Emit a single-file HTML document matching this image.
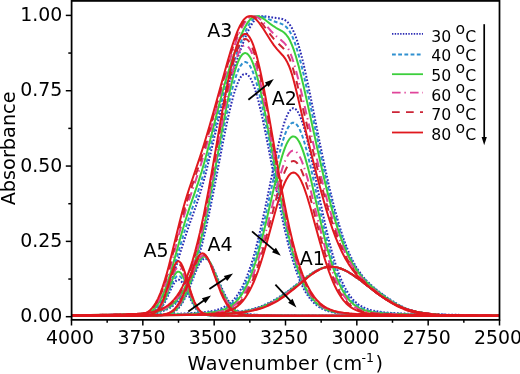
<!DOCTYPE html>
<html><head><meta charset="utf-8"><style>
html,body{margin:0;padding:0;background:#fff;}
svg{display:block;}
text{font-family:"DejaVu Sans","Liberation Sans",sans-serif;fill:#000;}
</style></head><body>
<svg width="520" height="374" viewBox="0 0 520 374">
<rect width="520" height="374" fill="#fff"/>
<g fill="none" stroke-linejoin="round">
<g stroke="#2b2bb4" stroke-width="2.00" stroke-dasharray="1.7 1.7">
<path d="M71.5 315.97 L140.5 315.74 L145.0 315.61 L148.0 315.40 L150.5 315.05 L153.0 314.43 L154.5 313.86 L155.5 313.37 L157.5 312.06 L159.5 310.22 L161.5 307.77 L163.0 305.51 L165.0 301.93 L167.0 297.82 L171.5 287.96 L173.5 284.17 L175.0 281.95 L176.0 280.85 L177.0 280.11 L177.5 279.89 L178.5 279.73 L179.5 279.96 L180.5 280.59 L181.5 281.58 L183.0 283.68 L184.0 285.41 L185.5 288.38 L190.0 298.25 L192.0 302.31 L194.5 306.61 L196.5 309.32 L197.5 310.43 L199.0 311.82 L200.0 312.57 L201.5 313.47 L203.0 314.15 L204.5 314.64 L206.5 315.09 L208.5 315.36 L212.0 315.62 L217.5 315.76 L499.5 316.00"/>
<path d="M71.5 315.93 L131.5 315.76 L155.0 315.48 L161.0 315.21 L165.0 314.82 L168.5 314.14 L171.5 313.15 L173.0 312.44 L174.5 311.56 L176.0 310.47 L177.5 309.15 L179.0 307.55 L180.0 306.33 L181.5 304.24 L182.5 302.66 L185.0 298.10 L187.5 292.69 L190.0 286.59 L195.5 272.41 L197.0 268.86 L198.5 265.67 L199.5 263.80 L200.5 262.19 L202.0 260.30 L203.0 259.44 L203.5 259.13 L204.5 258.78 L205.0 258.74 L205.5 258.78 L206.5 259.09 L207.0 259.37 L208.0 260.15 L209.5 261.84 L210.5 263.29 L211.5 264.96 L213.0 267.82 L214.5 271.01 L221.0 286.26 L224.0 292.84 L226.0 296.76 L227.5 299.41 L229.0 301.79 L230.5 303.90 L232.0 305.76 L234.0 307.84 L235.5 309.14 L237.5 310.56 L239.5 311.67 L241.5 312.53 L243.5 313.18 L246.0 313.78 L248.5 314.20 L251.5 314.54 L259.5 315.02 L273.0 315.36 L292.5 315.61 L318.0 315.76 L499.5 315.96"/>
<path d="M71.5 315.35 L108.0 314.98 L132.5 314.49 L140.0 314.19 L146.0 313.83 L151.0 313.36 L155.5 312.73 L159.5 311.92 L163.5 310.77 L167.0 309.39 L170.5 307.53 L173.5 305.47 L176.5 302.88 L179.5 299.66 L182.0 296.41 L184.5 292.57 L186.5 289.04 L189.0 284.00 L191.0 279.43 L193.5 272.99 L195.5 267.24 L197.5 260.95 L199.5 254.10 L201.5 246.69 L204.0 236.68 L206.0 228.08 L208.5 216.67 L213.5 192.02 L222.0 147.50 L225.0 132.25 L228.5 115.63 L231.5 102.91 L233.5 95.43 L235.0 90.44 L237.0 84.70 L238.5 81.13 L239.5 79.12 L240.5 77.42 L242.0 75.47 L243.0 74.57 L243.5 74.24 L244.5 73.84 L245.0 73.77 L245.5 73.78 L246.5 74.04 L247.0 74.30 L248.0 75.07 L249.5 76.83 L250.5 78.40 L251.5 80.29 L253.0 83.68 L255.0 89.21 L256.5 94.05 L258.5 101.34 L261.5 113.85 L265.0 130.28 L268.5 148.02 L277.5 195.08 L282.5 219.48 L285.0 230.71 L287.5 241.19 L290.0 250.83 L292.5 259.62 L295.0 267.54 L297.5 274.61 L300.0 280.85 L302.5 286.31 L305.0 291.04 L306.5 293.55 L308.0 295.84 L309.5 297.91 L311.0 299.78 L314.0 302.98 L317.0 305.55 L320.0 307.59 L323.0 309.20 L326.5 310.63 L330.5 311.82 L334.5 312.66 L339.5 313.37 L345.5 313.91 L352.5 314.29 L362.0 314.60 L392.0 315.11 L436.5 315.46 L499.5 315.69"/>
<path d="M71.5 315.37 L119.5 314.98 L155.0 314.42 L169.5 314.05 L182.0 313.61 L192.0 313.12 L200.0 312.56 L206.0 311.95 L211.0 311.20 L215.0 310.37 L219.0 309.22 L222.5 307.85 L225.5 306.31 L228.5 304.35 L231.5 301.87 L233.0 300.39 L234.5 298.75 L237.0 295.58 L239.5 291.82 L242.0 287.39 L244.5 282.22 L246.5 277.53 L249.0 270.91 L251.0 265.00 L253.0 258.52 L255.5 249.65 L258.0 239.93 L260.5 229.43 L265.0 208.89 L276.0 155.53 L279.0 142.23 L281.5 132.27 L283.0 126.93 L284.5 122.15 L286.0 117.99 L287.5 114.51 L289.0 111.76 L290.5 109.78 L291.5 108.90 L292.0 108.60 L293.0 108.27 L293.5 108.24 L294.5 108.46 L295.0 108.71 L296.0 109.48 L297.5 111.30 L299.0 113.90 L300.5 117.24 L302.0 121.27 L303.5 125.93 L305.0 131.16 L307.5 140.97 L310.5 154.15 L313.5 168.35 L321.5 207.47 L326.0 228.12 L328.5 238.71 L330.5 246.63 L333.0 255.77 L335.0 262.47 L337.0 268.61 L339.5 275.50 L341.5 280.41 L344.0 285.82 L346.5 290.47 L349.0 294.44 L351.5 297.79 L354.0 300.60 L356.5 302.93 L359.5 305.19 L362.5 306.97 L366.0 308.56 L370.0 309.90 L374.0 310.86 L378.5 311.64 L384.0 312.30 L391.0 312.88 L400.0 313.39 L411.0 313.84 L424.0 314.23 L456.5 314.85 L499.5 315.27"/>
<path d="M71.5 315.60 L153.0 315.18 L181.0 314.86 L201.0 314.47 L215.0 313.97 L226.0 313.29 L235.5 312.32 L240.0 311.68 L244.0 310.99 L251.0 309.43 L254.5 308.46 L258.0 307.35 L261.5 306.08 L264.5 304.86 L270.5 302.04 L273.5 300.44 L277.0 298.41 L280.5 296.21 L284.0 293.85 L290.5 289.14 L306.0 277.28 L310.0 274.46 L314.0 271.94 L316.5 270.55 L318.5 269.57 L320.5 268.71 L322.5 268.00 L324.5 267.43 L326.5 267.02 L328.5 266.77 L330.5 266.68 L332.5 266.76 L334.5 266.97 L336.5 267.34 L338.5 267.84 L340.5 268.47 L343.0 269.45 L345.0 270.36 L347.5 271.65 L351.5 274.03 L356.0 277.08 L361.0 280.78 L372.0 289.32 L377.0 293.09 L382.0 296.62 L387.0 299.86 L393.0 303.29 L398.5 305.96 L404.0 308.19 L410.0 310.15 L416.5 311.77 L423.5 313.04 L431.0 313.98 L439.5 314.66 L449.0 315.10 L460.5 315.38 L499.5 315.68"/>
<path d="M71.5 316.00 L130.5 315.96 L138.0 315.79 L141.0 315.59 L143.5 315.32 L146.5 314.78 L149.0 314.08 L151.5 313.06 L153.5 311.94 L155.5 310.48 L157.5 308.63 L159.5 306.32 L161.5 303.51 L164.0 299.21 L166.0 295.11 L168.5 289.18 L171.0 282.41 L174.5 271.79 L182.5 245.50 L186.0 234.50 L189.5 224.21 L196.5 204.48 L200.0 193.79 L203.0 183.57 L206.0 172.26 L209.0 159.99 L217.5 123.78 L220.0 113.84 L222.5 104.55 L225.5 94.27 L229.0 83.23 L233.0 71.38 L239.0 54.18 L243.0 43.21 L246.5 34.50 L248.0 31.16 L249.5 28.12 L252.0 23.80 L253.5 21.70 L254.5 20.50 L256.0 19.00 L257.5 17.86 L259.0 17.05 L260.5 16.53 L262.0 16.26 L263.5 16.20 L266.0 16.42 L272.5 17.55 L280.5 18.54 L283.0 19.22 L284.5 19.89 L285.5 20.47 L287.0 21.62 L288.0 22.58 L289.5 24.35 L290.5 25.77 L292.0 28.29 L293.0 30.24 L294.5 33.59 L295.5 36.10 L297.5 41.81 L300.0 50.16 L302.0 57.75 L304.5 68.19 L309.0 89.05 L320.0 143.93 L325.5 170.16 L328.5 183.62 L331.5 196.34 L334.5 208.27 L337.0 217.53 L340.0 227.81 L343.0 237.13 L346.0 245.47 L349.0 252.86 L352.0 259.33 L355.0 264.96 L356.5 267.49 L358.5 270.59 L362.0 275.37 L364.5 278.36 L367.0 281.06 L369.5 283.52 L372.5 286.25 L376.0 289.19 L379.5 291.94 L383.5 294.91 L387.5 297.73 L391.5 300.39 L395.0 302.57 L398.5 304.59 L402.0 306.44 L405.5 308.10 L408.5 309.36 L411.5 310.48 L415.0 311.62 L420.5 313.03 L426.5 314.14 L433.0 314.94 L440.5 315.48 L448.5 315.77 L458.5 315.93 L499.5 316.00"/>
</g>
<g stroke="#2f90d0" stroke-width="2.00" stroke-dasharray="3.8 2.4">
<path d="M71.5 315.96 L140.5 315.71 L145.0 315.57 L148.0 315.33 L150.5 314.95 L153.0 314.26 L154.5 313.63 L155.5 313.08 L157.5 311.63 L159.5 309.60 L161.5 306.89 L163.0 304.38 L165.0 300.41 L167.0 295.86 L171.5 284.95 L173.5 280.75 L175.0 278.29 L176.0 277.08 L177.0 276.26 L177.5 276.01 L178.5 275.83 L179.5 276.09 L180.5 276.79 L181.5 277.89 L183.0 280.21 L184.0 282.12 L185.5 285.41 L190.0 296.34 L192.0 300.84 L193.5 303.83 L194.5 305.60 L196.5 308.60 L197.5 309.84 L199.0 311.37 L200.0 312.20 L201.5 313.20 L203.0 313.95 L204.5 314.49 L206.5 314.99 L208.5 315.30 L212.5 315.60 L219.5 315.76 L499.5 316.00"/>
<path d="M71.5 315.92 L130.5 315.76 L154.5 315.47 L160.5 315.20 L164.5 314.79 L168.0 314.11 L171.0 313.09 L172.5 312.38 L174.0 311.48 L175.5 310.37 L177.0 309.02 L178.5 307.39 L179.5 306.15 L181.0 304.01 L182.0 302.41 L184.5 297.77 L187.0 292.25 L189.5 286.04 L195.0 271.59 L196.5 267.97 L198.0 264.72 L199.0 262.82 L200.0 261.18 L201.5 259.25 L202.5 258.37 L203.0 258.06 L204.0 257.70 L204.5 257.66 L205.0 257.70 L206.0 258.03 L206.5 258.32 L207.5 259.12 L209.0 260.88 L210.0 262.39 L211.0 264.13 L212.5 267.11 L214.0 270.43 L220.5 286.24 L223.5 293.02 L225.0 296.08 L226.5 298.87 L228.0 301.38 L229.5 303.61 L231.0 305.56 L233.0 307.75 L234.5 309.11 L236.5 310.60 L238.5 311.75 L240.5 312.63 L242.5 313.30 L245.0 313.90 L247.5 314.32 L250.5 314.65 L258.0 315.09 L271.0 315.41 L290.5 315.64 L311.0 315.76 L499.5 315.97"/>
<path d="M71.5 315.31 L108.0 314.91 L132.0 314.39 L139.5 314.08 L145.5 313.68 L150.5 313.18 L155.0 312.50 L159.0 311.63 L163.0 310.40 L166.5 308.92 L170.0 306.96 L173.0 304.78 L176.0 302.05 L179.0 298.66 L181.5 295.25 L184.0 291.24 L186.0 287.55 L188.5 282.29 L190.5 277.53 L193.0 270.83 L195.0 264.87 L197.0 258.33 L199.0 251.23 L201.0 243.56 L203.5 233.19 L206.0 221.99 L208.5 210.04 L213.0 186.97 L221.5 140.79 L225.0 122.32 L228.5 105.17 L231.5 92.05 L233.5 84.35 L235.0 79.22 L237.0 73.31 L238.5 69.64 L239.5 67.57 L240.5 65.83 L242.0 63.82 L243.0 62.90 L243.5 62.56 L244.5 62.15 L245.0 62.08 L245.5 62.08 L246.5 62.36 L247.0 62.62 L248.0 63.41 L249.5 65.22 L250.5 66.84 L251.5 68.77 L253.0 72.26 L255.0 77.95 L257.0 84.72 L259.0 92.46 L262.0 105.63 L265.5 122.83 L268.5 138.63 L277.5 187.50 L282.5 212.97 L285.5 227.02 L288.0 237.86 L290.5 247.85 L293.0 256.96 L295.5 265.18 L298.0 272.52 L300.5 279.01 L303.0 284.70 L305.5 289.63 L307.0 292.26 L308.5 294.65 L310.0 296.82 L311.5 298.78 L314.5 302.15 L317.5 304.86 L320.5 307.02 L324.0 308.97 L327.5 310.44 L331.5 311.65 L335.5 312.52 L340.5 313.25 L346.5 313.81 L353.5 314.20 L363.0 314.53 L393.0 315.06 L437.0 315.43 L499.5 315.67"/>
<path d="M71.5 315.47 L120.5 315.13 L156.5 314.63 L183.5 313.92 L193.5 313.49 L201.5 312.99 L207.5 312.42 L212.5 311.72 L216.5 310.93 L220.5 309.82 L224.0 308.48 L227.0 306.97 L230.0 305.04 L232.5 303.03 L235.0 300.60 L237.5 297.67 L240.0 294.17 L242.5 290.04 L245.0 285.21 L247.0 280.80 L249.5 274.56 L251.5 268.98 L253.5 262.86 L256.0 254.46 L258.5 245.25 L261.0 235.30 L265.5 215.81 L273.5 178.83 L276.5 165.41 L279.5 152.98 L282.0 143.75 L283.5 138.84 L285.0 134.48 L286.5 130.73 L288.0 127.65 L289.5 125.27 L291.0 123.63 L292.0 122.97 L292.5 122.77 L293.5 122.63 L294.5 122.84 L295.0 123.08 L296.0 123.81 L297.5 125.54 L299.0 128.02 L300.5 131.20 L302.0 135.03 L303.5 139.46 L305.0 144.44 L307.5 153.77 L310.5 166.28 L313.5 179.75 L321.5 216.71 L326.0 236.12 L328.5 246.02 L330.5 253.40 L333.0 261.90 L335.0 268.10 L337.0 273.76 L339.5 280.09 L341.5 284.58 L344.0 289.50 L346.0 292.92 L348.5 296.61 L351.0 299.72 L353.5 302.30 L356.0 304.44 L359.0 306.50 L362.0 308.12 L365.5 309.55 L369.0 310.61 L373.0 311.49 L377.5 312.20 L383.0 312.79 L390.0 313.31 L399.0 313.75 L423.5 314.49 L456.0 315.02 L499.5 315.38"/>
<path d="M71.5 315.62 L153.5 315.20 L182.0 314.88 L202.0 314.50 L216.5 313.99 L227.5 313.30 L237.0 312.33 L245.0 311.07 L252.0 309.51 L255.5 308.54 L259.0 307.42 L262.5 306.14 L265.5 304.90 L268.5 303.54 L271.5 302.04 L274.5 300.40 L278.0 298.33 L284.5 294.04 L291.0 289.26 L306.5 277.20 L310.5 274.35 L314.0 272.10 L316.5 270.67 L318.5 269.66 L320.5 268.78 L322.5 268.04 L324.5 267.45 L326.5 267.03 L328.5 266.77 L330.5 266.68 L332.5 266.76 L334.5 266.97 L336.5 267.34 L338.5 267.84 L340.5 268.47 L343.0 269.45 L345.0 270.36 L347.5 271.65 L351.5 274.03 L356.0 277.08 L361.0 280.78 L372.0 289.32 L377.0 293.09 L382.0 296.62 L387.0 299.86 L393.0 303.29 L398.5 305.96 L404.0 308.19 L410.0 310.15 L416.5 311.77 L423.5 313.04 L431.0 313.98 L439.5 314.66 L449.0 315.10 L460.5 315.38 L499.5 315.68"/>
<path d="M71.5 316.00 L129.0 315.96 L136.5 315.78 L139.5 315.58 L142.0 315.30 L145.0 314.75 L147.5 314.03 L150.0 312.99 L152.0 311.85 L154.0 310.37 L156.0 308.49 L158.0 306.14 L160.0 303.27 L162.5 298.89 L164.5 294.71 L167.0 288.64 L169.5 281.68 L173.5 269.05 L181.5 241.47 L185.5 228.35 L189.5 216.27 L197.0 194.79 L200.5 183.94 L203.5 173.69 L206.5 162.46 L209.5 150.44 L217.5 117.28 L220.0 107.46 L222.5 98.16 L225.5 87.70 L228.5 77.91 L232.0 67.16 L235.5 56.91 L239.5 45.82 L243.0 36.91 L246.0 30.21 L247.5 27.27 L249.0 24.65 L250.5 22.37 L252.0 20.46 L253.0 19.39 L254.5 18.08 L255.5 17.42 L257.0 16.70 L258.5 16.31 L260.0 16.20 L262.0 16.44 L264.5 17.20 L273.0 20.98 L281.5 23.92 L283.0 24.63 L284.5 25.55 L286.0 26.75 L287.0 27.75 L288.5 29.59 L289.5 31.07 L291.0 33.69 L292.0 35.72 L294.0 40.45 L296.0 46.08 L298.5 54.27 L301.0 63.59 L303.5 73.84 L308.5 96.35 L319.0 146.81 L324.5 172.19 L327.5 185.24 L330.5 197.58 L333.5 209.15 L336.0 218.15 L339.0 228.13 L342.0 237.21 L345.0 245.35 L348.0 252.59 L351.0 258.97 L354.0 264.54 L357.5 270.15 L361.0 274.93 L363.5 277.93 L366.0 280.66 L368.5 283.15 L371.5 285.91 L375.0 288.88 L378.5 291.66 L382.5 294.66 L387.0 297.84 L391.0 300.50 L394.5 302.67 L398.0 304.68 L401.0 306.27 L404.5 307.94 L407.5 309.22 L411.0 310.53 L414.5 311.66 L420.0 313.06 L426.0 314.16 L432.5 314.95 L440.0 315.48 L448.0 315.77 L458.0 315.93 L499.5 316.00"/>
</g>
<g stroke="#3ccf3c" stroke-width="2.00">
<path d="M71.5 315.96 L140.5 315.68 L145.0 315.52 L148.0 315.26 L150.5 314.84 L153.0 314.08 L154.5 313.38 L155.5 312.78 L157.5 311.18 L159.5 308.93 L161.5 305.94 L163.0 303.16 L165.0 298.79 L167.0 293.76 L171.5 281.70 L173.5 277.07 L175.0 274.35 L176.0 273.01 L177.0 272.11 L177.5 271.83 L178.5 271.63 L179.5 271.92 L180.5 272.69 L181.5 273.91 L183.0 276.47 L184.0 278.58 L185.5 282.21 L190.0 294.28 L192.0 299.26 L193.5 302.56 L194.5 304.52 L196.5 307.83 L197.5 309.19 L199.0 310.88 L200.0 311.80 L201.5 312.91 L203.0 313.73 L204.5 314.34 L206.5 314.88 L208.5 315.22 L213.0 315.58 L221.5 315.76 L499.5 316.00"/>
<path d="M71.5 315.92 L129.0 315.76 L154.0 315.46 L160.0 315.18 L164.0 314.77 L167.5 314.07 L170.5 313.04 L172.0 312.31 L173.5 311.39 L175.0 310.26 L176.5 308.89 L178.0 307.23 L179.0 305.96 L180.5 303.79 L181.5 302.16 L184.0 297.43 L186.5 291.81 L189.0 285.49 L194.5 270.76 L196.0 267.08 L197.5 263.77 L198.5 261.84 L199.5 260.16 L201.0 258.20 L202.0 257.31 L202.5 256.99 L203.5 256.63 L204.0 256.58 L204.5 256.62 L205.5 256.97 L206.0 257.26 L207.0 258.10 L208.5 259.93 L209.5 261.50 L210.5 263.31 L212.0 266.41 L213.5 269.86 L219.5 285.02 L222.5 292.14 L224.0 295.36 L225.5 298.30 L227.0 300.95 L228.5 303.30 L230.0 305.36 L232.0 307.66 L233.5 309.09 L235.5 310.63 L237.5 311.83 L239.5 312.74 L241.5 313.42 L244.0 314.03 L246.5 314.44 L249.0 314.72 L256.5 315.16 L269.0 315.46 L288.0 315.67 L304.0 315.76 L499.5 315.97"/>
<path d="M71.5 315.27 L108.0 314.85 L131.5 314.31 L139.0 313.98 L145.0 313.56 L150.0 313.02 L154.5 312.30 L158.5 311.37 L162.5 310.08 L166.0 308.52 L168.0 307.42 L169.5 306.46 L172.5 304.19 L175.5 301.34 L178.5 297.82 L181.0 294.29 L182.5 291.88 L184.0 289.24 L186.5 284.27 L189.0 278.54 L191.5 272.00 L194.0 264.61 L196.5 256.33 L198.5 249.06 L201.0 239.16 L205.0 221.51 L209.5 199.28 L213.5 177.88 L222.5 127.77 L226.5 106.68 L230.0 90.00 L233.0 77.58 L234.5 72.16 L236.0 67.35 L237.5 63.17 L239.0 59.67 L240.5 56.89 L242.0 54.85 L243.0 53.92 L243.5 53.58 L244.5 53.16 L245.0 53.08 L245.5 53.09 L246.5 53.37 L247.0 53.64 L248.0 54.44 L249.5 56.27 L250.5 57.91 L251.5 59.88 L253.0 63.43 L255.0 69.20 L257.0 76.08 L259.0 83.96 L262.0 97.37 L265.5 114.91 L269.0 133.81 L278.0 183.89 L283.0 209.94 L286.0 224.29 L288.5 235.38 L291.0 245.60 L293.5 254.93 L296.0 263.35 L298.5 270.88 L301.0 277.55 L303.5 283.40 L306.0 288.49 L309.0 293.67 L310.5 295.92 L312.0 297.95 L315.0 301.45 L318.0 304.27 L321.0 306.53 L322.5 307.48 L324.5 308.57 L328.0 310.11 L332.0 311.40 L336.0 312.32 L341.0 313.10 L347.0 313.69 L354.0 314.11 L363.5 314.46 L393.0 315.01 L437.0 315.40 L499.5 315.65"/>
<path d="M71.5 315.55 L121.0 315.27 L157.5 314.84 L185.0 314.21 L195.0 313.83 L202.5 313.41 L208.0 312.96 L213.0 312.36 L217.0 311.66 L221.0 310.68 L224.5 309.48 L227.5 308.13 L230.5 306.37 L233.0 304.54 L235.5 302.31 L238.0 299.60 L240.5 296.36 L243.0 292.52 L245.5 288.01 L247.5 283.88 L250.0 278.02 L252.0 272.77 L254.0 267.00 L256.5 259.06 L258.5 252.15 L261.0 242.86 L265.5 224.60 L273.5 189.73 L276.5 177.02 L279.5 165.24 L282.0 156.48 L283.5 151.82 L285.0 147.68 L286.5 144.12 L288.0 141.19 L289.5 138.93 L291.0 137.37 L292.0 136.75 L292.5 136.55 L293.5 136.42 L294.5 136.62 L295.0 136.85 L296.0 137.54 L297.5 139.19 L299.0 141.54 L300.5 144.56 L302.0 148.20 L303.5 152.41 L305.0 157.14 L307.5 165.98 L310.5 177.85 L321.0 223.33 L325.5 241.70 L328.0 251.07 L330.0 258.05 L332.5 266.09 L334.5 271.94 L336.5 277.27 L339.0 283.21 L341.0 287.42 L343.5 292.01 L345.5 295.20 L348.0 298.63 L350.5 301.50 L353.0 303.87 L355.5 305.83 L358.5 307.70 L361.5 309.16 L364.5 310.28 L368.0 311.26 L372.0 312.07 L376.5 312.71 L382.0 313.24 L389.0 313.69 L397.5 314.06 L422.5 314.72 L455.5 315.17 L499.5 315.48"/>
<path d="M71.5 315.63 L154.5 315.22 L183.0 314.91 L203.5 314.52 L217.5 314.03 L228.5 313.36 L238.0 312.40 L242.0 311.84 L246.0 311.15 L249.5 310.43 L253.0 309.59 L256.5 308.62 L259.5 307.66 L263.0 306.39 L266.0 305.16 L269.0 303.79 L272.0 302.29 L275.0 300.65 L278.5 298.57 L282.0 296.30 L285.5 293.87 L292.0 288.99 L307.0 277.13 L311.0 274.24 L314.5 271.96 L317.0 270.53 L319.0 269.52 L321.0 268.65 L323.0 267.92 L325.0 267.35 L327.0 266.96 L329.0 266.73 L330.5 266.68 L332.5 266.76 L334.5 266.97 L336.5 267.34 L338.5 267.84 L340.5 268.47 L343.0 269.45 L345.0 270.36 L347.5 271.65 L351.5 274.03 L356.0 277.08 L361.0 280.78 L372.0 289.32 L377.0 293.09 L382.0 296.62 L387.0 299.86 L393.0 303.29 L398.5 305.96 L404.0 308.19 L410.0 310.15 L416.5 311.77 L423.5 313.04 L431.0 313.98 L439.5 314.66 L449.0 315.10 L460.5 315.38 L499.5 315.68"/>
<path d="M71.5 316.00 L128.5 315.95 L136.0 315.73 L141.0 315.24 L144.0 314.65 L146.5 313.88 L149.0 312.76 L151.0 311.54 L153.0 309.96 L155.0 307.95 L157.0 305.45 L158.5 303.22 L161.0 298.76 L163.0 294.49 L165.5 288.26 L168.0 281.09 L170.0 274.75 L172.0 267.98 L181.0 235.43 L185.0 221.79 L189.0 209.32 L198.0 183.13 L201.5 172.07 L204.5 161.73 L207.5 150.60 L218.0 108.89 L223.0 90.10 L225.5 81.29 L228.5 71.25 L231.5 61.74 L234.5 52.75 L238.0 43.01 L241.0 35.49 L244.0 28.95 L246.5 24.42 L248.0 22.16 L249.0 20.85 L250.5 19.19 L251.5 18.29 L252.5 17.55 L254.0 16.76 L255.5 16.31 L257.0 16.20 L258.0 16.30 L259.5 16.67 L261.0 17.29 L262.5 18.10 L265.0 19.79 L271.0 24.43 L273.5 26.21 L276.0 27.77 L281.5 30.80 L284.0 32.55 L286.0 34.49 L288.0 37.12 L290.0 40.62 L292.0 45.07 L294.0 50.46 L296.0 56.73 L298.5 65.61 L301.0 75.40 L303.5 85.85 L306.5 98.99 L318.5 153.91 L323.5 175.93 L326.5 188.43 L329.0 198.34 L332.0 209.55 L334.5 218.29 L337.5 228.00 L340.5 236.84 L343.5 244.81 L347.0 253.03 L350.0 259.19 L353.5 265.45 L357.0 270.81 L360.5 275.42 L363.0 278.34 L365.5 281.01 L368.5 283.94 L371.5 286.63 L375.0 289.56 L378.5 292.31 L382.5 295.28 L386.5 298.09 L390.0 300.40 L393.5 302.58 L397.0 304.59 L400.5 306.43 L404.0 308.08 L407.0 309.35 L410.5 310.64 L414.0 311.74 L419.5 313.12 L425.5 314.20 L432.0 314.97 L439.5 315.49 L447.5 315.78 L457.5 315.93 L499.5 316.00"/>
</g>
<g stroke="#e0449a" stroke-width="2.00" stroke-dasharray="8.6 3.8 1.4 4.2">
<path d="M71.5 315.96 L133.5 315.76 L140.5 315.65 L145.0 315.47 L148.0 315.19 L150.5 314.73 L153.0 313.90 L154.5 313.13 L155.5 312.47 L157.5 310.72 L158.5 309.59 L159.5 308.27 L161.5 304.99 L163.0 301.95 L165.0 297.16 L167.0 291.66 L171.5 278.46 L173.5 273.39 L175.0 270.41 L176.0 268.94 L177.0 267.95 L177.5 267.65 L178.0 267.48 L178.5 267.44 L179.0 267.53 L179.5 267.75 L180.5 268.59 L181.5 269.92 L183.0 272.73 L184.0 275.04 L185.5 279.02 L190.0 292.23 L192.0 297.67 L193.5 301.28 L194.5 303.43 L196.5 307.06 L197.5 308.55 L199.0 310.40 L200.0 311.41 L201.5 312.61 L203.0 313.52 L204.5 314.18 L206.5 314.78 L208.5 315.15 L210.5 315.38 L213.5 315.56 L223.5 315.76 L499.5 316.00"/>
<path d="M71.5 315.92 L128.0 315.76 L153.5 315.45 L159.5 315.17 L163.5 314.75 L167.0 314.04 L168.5 313.58 L170.0 312.99 L171.5 312.24 L173.0 311.31 L174.5 310.16 L176.0 308.76 L177.5 307.07 L178.5 305.78 L180.0 303.57 L181.0 301.91 L183.5 297.09 L186.0 291.37 L188.5 284.93 L194.0 269.94 L195.5 266.19 L197.0 262.82 L198.0 260.85 L199.0 259.15 L200.5 257.15 L201.5 256.24 L202.0 255.92 L203.0 255.55 L203.5 255.50 L204.0 255.55 L205.0 255.90 L205.5 256.21 L206.5 257.08 L208.0 258.99 L209.0 260.62 L210.0 262.50 L211.5 265.73 L213.0 269.32 L219.0 285.04 L222.0 292.37 L223.5 295.67 L225.0 298.67 L226.5 301.36 L228.0 303.74 L229.5 305.80 L231.0 307.57 L232.5 309.06 L234.5 310.68 L236.5 311.92 L238.5 312.85 L240.5 313.55 L243.0 314.16 L245.5 314.57 L248.0 314.84 L254.5 315.22 L266.5 315.50 L285.5 315.70 L499.5 315.98"/>
<path d="M71.5 315.23 L108.0 314.80 L131.5 314.22 L138.5 313.89 L144.5 313.44 L149.5 312.87 L154.0 312.11 L158.0 311.13 L162.0 309.77 L165.5 308.15 L167.5 306.99 L169.0 306.00 L172.0 303.64 L175.0 300.70 L178.0 297.06 L180.5 293.42 L183.5 288.23 L186.0 283.13 L188.5 277.27 L191.0 270.59 L193.5 263.05 L196.0 254.61 L198.5 245.26 L201.0 235.00 L205.0 216.78 L209.5 193.92 L213.5 172.01 L222.0 123.71 L226.0 102.09 L229.5 84.89 L231.5 76.07 L233.0 70.04 L234.5 64.56 L236.0 59.69 L237.5 55.47 L239.0 51.94 L240.5 49.13 L242.0 47.07 L243.0 46.13 L243.5 45.79 L244.5 45.37 L245.0 45.29 L245.5 45.30 L246.5 45.58 L247.5 46.21 L248.5 47.19 L250.0 49.29 L251.0 51.12 L252.0 53.27 L253.5 57.08 L255.5 63.20 L257.0 68.52 L259.0 76.49 L262.0 90.08 L265.5 107.87 L269.0 127.07 L278.5 180.92 L283.5 207.40 L286.5 222.00 L289.0 233.27 L291.5 243.68 L294.0 253.17 L296.5 261.76 L299.0 269.45 L301.5 276.26 L304.5 283.35 L307.0 288.42 L310.0 293.58 L311.5 295.82 L313.0 297.85 L316.0 301.34 L319.0 304.15 L322.0 306.41 L323.5 307.36 L325.5 308.46 L329.0 310.00 L333.0 311.30 L337.0 312.22 L342.0 313.01 L348.0 313.62 L355.0 314.05 L364.5 314.41 L393.5 314.96 L437.5 315.37 L499.5 315.64"/>
<path d="M71.5 315.63 L122.0 315.39 L158.5 315.02 L186.0 314.49 L196.0 314.17 L203.5 313.80 L209.0 313.41 L214.0 312.87 L218.0 312.24 L221.5 311.47 L225.0 310.42 L228.0 309.21 L231.0 307.63 L233.5 305.98 L236.0 303.95 L238.5 301.47 L241.0 298.50 L243.5 294.95 L246.0 290.77 L248.0 286.93 L250.5 281.47 L252.5 276.56 L254.5 271.16 L257.0 263.72 L259.0 257.24 L261.5 248.51 L266.0 231.35 L276.5 188.76 L279.5 177.67 L282.0 169.42 L283.5 165.03 L285.0 161.13 L286.5 157.77 L288.0 155.01 L289.5 152.88 L291.0 151.41 L292.0 150.82 L292.5 150.64 L293.5 150.51 L294.5 150.70 L295.0 150.91 L296.0 151.57 L297.5 153.12 L299.0 155.34 L300.5 158.19 L302.0 161.62 L303.5 165.59 L305.0 170.04 L307.5 178.38 L310.5 189.54 L320.5 230.15 L325.0 247.42 L327.5 256.22 L329.5 262.78 L332.0 270.31 L334.0 275.79 L336.0 280.77 L338.0 285.26 L340.0 289.29 L342.5 293.68 L344.5 296.73 L347.0 299.99 L349.5 302.72 L352.0 304.97 L354.5 306.82 L357.5 308.58 L360.5 309.93 L363.5 310.97 L367.0 311.88 L371.0 312.62 L375.5 313.19 L380.5 313.62 L387.5 314.02 L396.0 314.35 L420.5 314.91 L454.0 315.30 L499.5 315.57"/>
<path d="M71.5 315.64 L155.0 315.24 L184.0 314.93 L204.5 314.55 L218.5 314.07 L229.5 313.42 L239.0 312.47 L243.0 311.92 L247.0 311.23 L250.5 310.52 L254.0 309.68 L257.5 308.69 L260.5 307.73 L264.0 306.44 L267.0 305.20 L270.0 303.82 L273.0 302.29 L276.0 300.62 L279.5 298.49 L282.5 296.52 L286.0 294.06 L292.5 289.11 L307.0 277.44 L311.0 274.47 L314.5 272.13 L317.0 270.66 L319.0 269.61 L321.0 268.71 L323.0 267.96 L325.0 267.38 L327.0 266.97 L329.0 266.74 L330.5 266.68 L332.5 266.76 L334.5 266.97 L336.5 267.34 L338.5 267.84 L340.5 268.47 L343.0 269.45 L345.0 270.36 L347.5 271.65 L351.5 274.03 L356.0 277.08 L361.0 280.78 L372.0 289.32 L377.0 293.09 L382.0 296.62 L387.0 299.86 L393.0 303.29 L398.5 305.96 L404.0 308.19 L410.0 310.15 L416.5 311.77 L423.5 313.04 L431.0 313.98 L439.5 314.66 L449.0 315.10 L460.5 315.38 L499.5 315.68"/>
<path d="M71.5 316.00 L127.0 315.96 L134.5 315.75 L139.5 315.28 L142.5 314.70 L145.0 313.95 L147.5 312.84 L149.5 311.63 L151.5 310.04 L153.5 308.03 L155.5 305.50 L157.0 303.23 L159.5 298.67 L162.0 293.09 L164.5 286.45 L167.5 277.18 L171.5 263.01 L179.5 232.25 L183.5 217.72 L185.5 210.95 L188.0 202.96 L198.5 172.02 L201.0 164.25 L203.5 156.06 L206.0 147.41 L209.0 136.52 L219.0 98.59 L224.0 80.20 L229.0 62.91 L233.5 48.66 L236.5 40.14 L239.0 33.80 L241.5 28.29 L244.0 23.74 L245.5 21.51 L246.5 20.24 L247.5 19.14 L248.5 18.22 L249.5 17.47 L251.0 16.68 L252.0 16.37 L253.5 16.20 L255.0 16.38 L256.0 16.68 L257.0 17.12 L258.5 18.00 L260.5 19.55 L262.0 20.93 L264.0 23.01 L271.0 30.99 L274.0 34.13 L276.5 36.40 L281.5 40.38 L283.5 42.16 L285.5 44.40 L287.0 46.54 L289.0 50.17 L290.5 53.54 L292.0 57.51 L294.0 63.65 L296.0 70.65 L298.0 78.31 L302.5 96.94 L315.5 153.21 L321.0 176.33 L324.0 188.35 L327.0 199.78 L330.0 210.54 L332.5 218.93 L335.5 228.28 L338.5 236.82 L341.5 244.53 L345.0 252.51 L348.0 258.53 L351.5 264.68 L355.0 269.99 L358.5 274.60 L361.0 277.53 L363.5 280.22 L366.5 283.18 L369.5 285.92 L373.0 288.88 L377.0 292.05 L381.0 295.04 L385.0 297.85 L392.0 302.36 L395.5 304.39 L399.0 306.24 L402.5 307.91 L405.5 309.18 L409.0 310.49 L412.5 311.62 L418.5 313.13 L424.5 314.21 L431.0 314.97 L438.5 315.49 L446.5 315.78 L456.5 315.93 L499.5 316.00"/>
</g>
<g stroke="#cc2436" stroke-width="2.00" stroke-dasharray="7.7 6.3">
<path d="M71.5 315.95 L132.0 315.76 L140.5 315.63 L145.0 315.44 L148.0 315.14 L150.5 314.64 L153.0 313.75 L154.5 312.94 L155.5 312.23 L156.5 311.38 L157.5 310.36 L158.5 309.15 L159.5 307.74 L161.5 304.24 L163.0 301.00 L165.0 295.88 L167.0 290.00 L171.5 275.91 L173.5 270.50 L175.0 267.32 L176.0 265.75 L177.0 264.69 L177.5 264.37 L178.0 264.18 L178.5 264.14 L179.0 264.24 L179.5 264.48 L180.5 265.38 L181.5 266.79 L183.0 269.79 L184.0 272.26 L185.5 276.50 L190.0 290.62 L192.0 296.43 L193.5 300.28 L194.5 302.58 L196.5 306.45 L197.5 308.04 L199.0 310.02 L200.0 311.09 L201.5 312.38 L203.0 313.35 L204.5 314.06 L206.5 314.69 L208.5 315.09 L211.0 315.38 L214.0 315.56 L225.0 315.76 L499.5 315.99"/>
<path d="M71.5 315.92 L127.5 315.76 L144.5 315.60 L154.0 315.41 L159.5 315.12 L163.5 314.65 L167.0 313.86 L168.5 313.35 L170.0 312.70 L171.5 311.88 L173.0 310.86 L174.5 309.61 L175.5 308.63 L177.0 306.91 L178.0 305.60 L179.5 303.35 L180.5 301.66 L183.0 296.75 L185.5 290.93 L188.0 284.38 L193.5 269.12 L195.0 265.30 L196.5 261.87 L197.5 259.87 L198.5 258.13 L200.0 256.11 L201.0 255.18 L201.5 254.85 L202.5 254.47 L203.0 254.42 L203.5 254.47 L204.5 254.84 L205.0 255.16 L206.0 256.07 L207.5 258.05 L208.5 259.75 L209.5 261.71 L211.0 265.06 L212.5 268.80 L218.5 285.10 L221.0 291.46 L222.5 294.93 L224.0 298.10 L225.5 300.94 L227.0 303.44 L228.5 305.61 L230.0 307.47 L231.5 309.04 L233.5 310.72 L235.5 312.01 L237.5 312.97 L239.5 313.68 L242.0 314.30 L246.5 314.93 L253.0 315.31 L264.0 315.55 L283.0 315.73 L499.5 315.98"/>
<path d="M71.5 315.20 L107.5 314.75 L130.5 314.17 L137.5 313.83 L143.5 313.38 L148.5 312.80 L153.0 312.03 L157.5 310.91 L161.5 309.49 L165.0 307.81 L167.0 306.61 L168.5 305.58 L171.5 303.15 L174.5 300.12 L177.5 296.39 L180.0 292.67 L183.0 287.37 L185.5 282.18 L188.0 276.21 L190.5 269.43 L193.0 261.78 L195.5 253.22 L198.0 243.76 L200.5 233.38 L204.5 214.97 L209.0 191.87 L213.0 169.72 L222.0 117.94 L226.0 96.12 L229.5 78.79 L231.5 69.92 L233.0 63.85 L234.5 58.35 L236.0 53.45 L237.5 49.21 L239.0 45.67 L240.5 42.85 L242.0 40.78 L243.0 39.84 L243.5 39.49 L244.5 39.07 L245.0 38.99 L245.5 39.00 L246.5 39.28 L247.5 39.92 L248.5 40.90 L250.0 43.01 L251.0 44.84 L252.0 47.00 L253.5 50.83 L255.5 56.98 L257.0 62.33 L259.0 70.34 L260.5 76.95 L262.5 86.46 L266.0 104.64 L269.5 124.18 L278.5 175.93 L281.5 192.41 L284.0 205.49 L287.0 220.24 L289.5 231.64 L292.0 242.16 L294.5 251.77 L297.0 260.47 L299.5 268.26 L302.0 275.19 L305.0 282.40 L307.5 287.56 L310.5 292.83 L313.5 297.20 L316.5 300.78 L319.5 303.68 L322.5 306.01 L324.0 306.99 L326.0 308.13 L329.5 309.74 L333.5 311.09 L338.0 312.15 L343.0 312.95 L349.0 313.56 L356.0 314.00 L365.5 314.36 L394.5 314.93 L438.0 315.35 L499.5 315.62"/>
<path d="M71.5 315.69 L123.0 315.48 L160.0 315.17 L187.5 314.70 L197.5 314.42 L205.0 314.09 L210.5 313.73 L215.5 313.22 L219.5 312.62 L223.0 311.87 L226.0 311.00 L229.0 309.86 L232.0 308.36 L234.5 306.77 L237.0 304.82 L239.5 302.43 L242.0 299.55 L244.5 296.10 L247.0 292.04 L249.0 288.30 L251.0 284.11 L253.0 279.45 L255.0 274.31 L257.5 267.22 L259.5 261.03 L262.0 252.70 L266.5 236.30 L276.5 197.64 L279.5 187.03 L282.0 179.14 L283.5 174.93 L285.0 171.19 L286.5 167.97 L288.0 165.32 L289.5 163.27 L291.0 161.87 L292.0 161.30 L292.5 161.13 L293.5 161.00 L294.5 161.19 L295.0 161.39 L296.0 162.02 L297.5 163.51 L299.0 165.64 L300.5 168.37 L302.0 171.66 L303.5 175.46 L305.0 179.73 L307.5 187.71 L310.0 196.54 L320.5 237.06 L324.5 251.66 L327.0 260.07 L329.0 266.32 L331.5 273.50 L333.5 278.71 L335.5 283.44 L337.5 287.70 L339.5 291.51 L342.0 295.65 L344.0 298.51 L346.5 301.56 L349.0 304.10 L351.5 306.19 L354.0 307.89 L356.5 309.26 L359.5 310.55 L362.5 311.53 L366.0 312.37 L370.0 313.05 L374.5 313.57 L379.5 313.96 L386.0 314.29 L394.5 314.58 L419.5 315.07 L453.5 315.41 L499.5 315.64"/>
<path d="M71.5 315.65 L155.5 315.26 L184.5 314.96 L205.5 314.57 L219.5 314.12 L230.5 313.48 L240.0 312.55 L244.0 311.99 L248.0 311.32 L251.5 310.60 L255.0 309.76 L258.5 308.78 L261.5 307.80 L265.0 306.50 L268.0 305.24 L271.0 303.84 L274.0 302.29 L277.0 300.59 L280.5 298.42 L283.5 296.41 L287.0 293.89 L293.0 289.24 L307.5 277.36 L311.5 274.35 L315.0 271.99 L319.0 269.71 L321.0 268.78 L323.0 268.01 L325.0 267.40 L327.0 266.98 L329.0 266.74 L330.5 266.68 L332.5 266.76 L334.5 266.97 L336.5 267.34 L338.5 267.84 L340.5 268.47 L343.0 269.45 L345.0 270.36 L347.5 271.65 L351.5 274.03 L356.0 277.08 L361.0 280.78 L372.0 289.32 L377.0 293.09 L382.0 296.62 L387.0 299.86 L393.0 303.29 L398.5 305.96 L404.0 308.19 L410.0 310.15 L416.5 311.77 L423.5 313.04 L431.0 313.98 L439.5 314.66 L449.0 315.10 L460.5 315.38 L499.5 315.68"/>
<path d="M71.5 316.00 L126.5 315.96 L134.0 315.74 L139.0 315.26 L142.0 314.67 L144.5 313.90 L147.0 312.76 L149.0 311.51 L151.0 309.88 L153.0 307.80 L155.0 305.19 L156.5 302.84 L159.0 298.13 L161.5 292.35 L164.0 285.48 L166.5 277.58 L168.5 270.60 L170.5 263.15 L179.5 227.53 L184.0 211.00 L186.0 204.25 L188.5 196.29 L199.0 165.35 L202.0 156.02 L204.5 147.83 L210.5 126.81 L221.0 88.05 L225.5 71.78 L230.0 56.33 L233.5 45.28 L236.0 38.15 L238.5 31.83 L241.0 26.47 L243.0 22.95 L245.0 20.15 L246.0 19.03 L247.0 18.10 L248.0 17.36 L249.0 16.81 L250.0 16.43 L251.5 16.20 L252.5 16.26 L253.5 16.48 L254.5 16.85 L256.0 17.66 L257.0 18.37 L258.5 19.65 L261.0 22.26 L264.0 25.97 L271.0 35.45 L274.0 39.17 L277.0 42.38 L282.5 47.52 L284.0 49.14 L285.0 50.38 L286.5 52.58 L287.5 54.31 L289.0 57.36 L290.0 59.73 L291.5 63.79 L293.0 68.44 L296.0 79.24 L299.5 93.50 L312.0 146.57 L319.0 175.25 L322.5 188.92 L325.5 200.07 L328.5 210.60 L331.0 218.84 L334.0 228.03 L337.0 236.42 L340.0 244.03 L343.5 251.91 L346.5 257.88 L350.0 263.99 L353.5 269.28 L355.5 272.00 L357.5 274.51 L360.0 277.40 L363.0 280.57 L366.0 283.47 L369.0 286.17 L372.5 289.10 L376.5 292.25 L380.5 295.22 L384.5 298.02 L388.0 300.33 L391.5 302.50 L395.0 304.51 L398.5 306.35 L402.0 308.00 L405.0 309.26 L408.5 310.56 L412.0 311.67 L418.0 313.17 L424.0 314.23 L430.5 314.99 L438.0 315.50 L446.0 315.78 L456.0 315.93 L499.5 316.00"/>
</g>
<g stroke="#e0181e" stroke-width="2.00">
<path d="M71.5 315.95 L130.5 315.76 L140.5 315.61 L145.0 315.41 L148.0 315.09 L150.5 314.57 L152.0 314.07 L153.0 313.63 L154.5 312.77 L155.5 312.03 L156.5 311.13 L157.5 310.05 L158.5 308.78 L159.5 307.29 L161.5 303.59 L163.0 300.17 L165.0 294.77 L167.0 288.58 L171.5 273.71 L173.5 268.00 L175.0 264.64 L176.0 262.99 L177.0 261.87 L177.5 261.53 L178.0 261.33 L178.5 261.29 L179.0 261.39 L179.5 261.65 L180.5 262.60 L181.5 264.09 L183.0 267.25 L184.0 269.86 L185.5 274.34 L190.0 289.22 L192.0 295.35 L193.5 299.42 L194.5 301.84 L196.5 305.93 L197.5 307.60 L199.0 309.69 L200.0 310.83 L201.5 312.19 L203.0 313.20 L204.5 313.95 L206.5 314.62 L208.5 315.04 L211.0 315.34 L214.5 315.55 L226.0 315.76 L499.5 315.99"/>
<path d="M71.5 315.92 L127.0 315.75 L144.0 315.60 L153.5 315.40 L159.0 315.10 L163.0 314.62 L166.5 313.82 L168.0 313.30 L169.5 312.64 L171.0 311.81 L172.5 310.77 L174.0 309.50 L175.0 308.50 L176.5 306.76 L177.5 305.42 L179.0 303.13 L180.0 301.41 L182.5 296.42 L185.0 290.50 L187.5 283.82 L193.0 268.30 L194.5 264.41 L196.0 260.93 L197.0 258.89 L198.0 257.12 L199.5 255.06 L200.5 254.11 L201.0 253.78 L202.0 253.39 L202.5 253.34 L203.0 253.39 L204.0 253.78 L204.5 254.11 L205.5 255.06 L207.0 257.12 L208.0 258.89 L209.0 260.93 L210.5 264.41 L212.0 268.30 L218.0 285.20 L220.5 291.75 L222.0 295.30 L223.5 298.53 L226.0 303.13 L227.5 305.42 L229.0 307.37 L230.5 309.01 L232.5 310.77 L234.0 311.81 L236.0 312.88 L238.0 313.66 L240.5 314.34 L242.5 314.70 L245.0 315.01 L251.0 315.38 L261.0 315.60 L278.0 315.75 L499.5 315.98"/>
<path d="M71.5 315.17 L107.5 314.71 L120.5 314.42 L130.0 314.11 L137.0 313.76 L143.0 313.28 L148.0 312.68 L152.5 311.88 L157.0 310.71 L161.0 309.24 L164.5 307.49 L166.5 306.26 L168.0 305.21 L171.0 302.71 L174.0 299.61 L177.0 295.80 L179.5 292.01 L182.5 286.63 L185.0 281.36 L187.5 275.32 L190.0 268.46 L192.5 260.74 L195.0 252.11 L197.5 242.58 L200.0 232.13 L204.0 213.60 L208.5 190.37 L213.0 165.21 L222.0 113.00 L226.0 91.08 L229.5 73.71 L232.5 60.71 L234.5 53.24 L236.0 48.35 L237.5 44.11 L239.0 40.56 L240.5 37.75 L242.0 35.68 L243.0 34.74 L243.5 34.40 L244.5 33.97 L245.0 33.90 L245.5 33.90 L246.5 34.19 L247.5 34.82 L248.5 35.80 L250.0 37.91 L251.0 39.74 L252.0 41.90 L253.5 45.72 L255.5 51.87 L257.5 59.14 L259.5 67.40 L261.0 74.18 L263.0 83.89 L266.5 102.38 L270.0 122.16 L278.5 171.50 L281.5 188.20 L284.0 201.49 L287.0 216.51 L289.5 228.15 L292.5 240.97 L295.0 250.65 L297.5 259.42 L300.0 267.29 L302.5 274.28 L305.5 281.59 L308.0 286.82 L311.0 292.18 L314.0 296.63 L317.0 300.28 L320.0 303.25 L323.0 305.64 L324.5 306.65 L326.5 307.83 L330.0 309.49 L334.0 310.89 L338.5 312.00 L343.5 312.83 L349.5 313.47 L356.5 313.93 L365.5 314.30 L394.5 314.89 L438.0 315.32 L499.5 315.61"/>
<path d="M71.5 315.75 L124.0 315.57 L161.5 315.30 L189.5 314.90 L206.5 314.38 L212.0 314.04 L216.5 313.63 L220.5 313.08 L224.0 312.39 L227.0 311.59 L230.0 310.52 L232.5 309.37 L235.0 307.93 L237.5 306.14 L240.0 303.95 L242.5 301.30 L245.0 298.10 L247.5 294.32 L249.5 290.83 L251.5 286.91 L253.5 282.54 L255.5 277.71 L258.0 271.03 L260.0 265.19 L262.5 257.32 L267.0 241.85 L274.0 216.17 L277.0 205.50 L279.5 197.21 L282.0 189.73 L283.5 185.74 L285.0 182.20 L286.5 179.15 L288.0 176.64 L289.5 174.70 L291.0 173.37 L292.0 172.83 L292.5 172.66 L293.5 172.55 L294.5 172.72 L295.0 172.91 L296.0 173.51 L297.5 174.92 L299.0 176.94 L300.0 178.60 L301.5 181.55 L303.0 185.00 L304.5 188.90 L307.0 196.26 L310.0 206.19 L320.0 242.56 L324.5 257.97 L327.0 265.79 L329.0 271.59 L331.0 276.94 L333.0 281.84 L335.0 286.28 L337.0 290.27 L339.0 293.82 L341.5 297.68 L343.5 300.34 L346.0 303.16 L348.5 305.49 L351.0 307.40 L353.5 308.94 L356.0 310.18 L359.0 311.33 L362.0 312.20 L365.5 312.94 L369.0 313.47 L373.5 313.94 L378.5 314.28 L393.5 314.82 L418.5 315.23 L452.5 315.52 L499.5 315.71"/>
<path d="M71.5 315.66 L156.5 315.28 L186.0 314.97 L207.0 314.59 L221.5 314.11 L232.5 313.46 L241.5 312.56 L245.5 312.00 L249.5 311.31 L253.0 310.58 L256.5 309.72 L260.0 308.70 L263.0 307.70 L266.0 306.56 L269.0 305.29 L272.0 303.86 L275.0 302.28 L278.0 300.55 L281.0 298.67 L284.0 296.64 L287.5 294.09 L294.0 288.96 L308.0 277.29 L312.0 274.23 L315.5 271.85 L319.5 269.56 L321.5 268.64 L323.5 267.88 L325.5 267.30 L327.0 266.99 L329.0 266.74 L330.5 266.68 L332.5 266.76 L334.5 266.97 L336.5 267.34 L338.5 267.84 L340.5 268.47 L343.0 269.45 L345.0 270.36 L347.5 271.65 L351.5 274.03 L356.0 277.08 L361.0 280.78 L372.0 289.32 L377.0 293.09 L382.0 296.62 L387.0 299.86 L393.0 303.29 L398.5 305.96 L404.0 308.19 L410.0 310.15 L416.5 311.77 L423.5 313.04 L431.0 313.98 L439.5 314.66 L449.0 315.10 L460.5 315.38 L499.5 315.68"/>
<path d="M71.5 316.00 L126.0 315.96 L133.5 315.74 L138.5 315.25 L141.0 314.77 L143.5 314.04 L146.0 312.96 L148.0 311.75 L150.0 310.18 L152.0 308.15 L154.0 305.59 L155.5 303.28 L157.0 300.61 L158.0 298.62 L160.5 292.85 L162.5 287.41 L165.0 279.63 L167.0 272.67 L169.0 265.17 L179.5 222.41 L182.0 212.83 L184.5 203.86 L186.5 197.14 L189.0 189.23 L200.0 156.85 L203.0 147.55 L206.0 137.83 L209.5 126.01 L213.5 112.03 L227.5 61.71 L230.5 51.48 L233.0 43.52 L235.5 36.29 L237.5 31.15 L240.0 25.69 L242.0 22.18 L243.0 20.72 L244.0 19.47 L245.0 18.42 L246.0 17.58 L247.0 16.94 L248.0 16.50 L249.0 16.26 L250.0 16.20 L251.0 16.33 L252.0 16.63 L253.0 17.09 L254.0 17.71 L255.0 18.46 L256.5 19.85 L259.0 22.71 L262.5 27.59 L270.5 40.25 L274.0 45.38 L277.0 49.16 L283.0 55.71 L285.0 58.33 L287.0 61.66 L289.0 65.97 L290.5 69.93 L292.0 74.52 L293.5 79.69 L295.0 85.37 L297.5 95.62 L303.5 121.50 L307.5 138.26 L313.0 160.40 L318.0 179.83 L321.0 191.04 L324.0 201.80 L327.0 211.98 L329.5 219.96 L332.5 228.88 L335.5 237.03 L338.5 244.42 L342.0 252.08 L345.0 257.89 L348.5 263.84 L352.0 269.02 L356.0 274.15 L358.5 277.01 L361.5 280.15 L364.5 283.03 L367.5 285.72 L371.0 288.66 L375.0 291.81 L379.0 294.80 L383.5 297.96 L387.0 300.27 L390.5 302.43 L394.0 304.44 L397.5 306.28 L401.0 307.93 L404.0 309.20 L407.5 310.50 L411.0 311.62 L417.0 313.13 L423.0 314.20 L429.5 314.97 L437.0 315.49 L445.0 315.78 L455.5 315.93 L499.5 316.00"/>
</g>
</g>
<rect x="71.6" y="0.9" width="427.9" height="318.95" fill="none" stroke="#000" stroke-width="1.75"/>
<g stroke="#000" stroke-width="1.5">
<line x1="71.50" y1="319.7" x2="71.50" y2="325.5"/>
<line x1="142.83" y1="319.7" x2="142.83" y2="325.5"/>
<line x1="214.17" y1="319.7" x2="214.17" y2="325.5"/>
<line x1="285.50" y1="319.7" x2="285.50" y2="325.5"/>
<line x1="356.83" y1="319.7" x2="356.83" y2="325.5"/>
<line x1="428.17" y1="319.7" x2="428.17" y2="325.5"/>
<line x1="499.50" y1="319.7" x2="499.50" y2="325.5"/>
<line x1="107.17" y1="319.7" x2="107.17" y2="322.8"/>
<line x1="178.50" y1="319.7" x2="178.50" y2="322.8"/>
<line x1="249.83" y1="319.7" x2="249.83" y2="322.8"/>
<line x1="321.17" y1="319.7" x2="321.17" y2="322.8"/>
<line x1="392.50" y1="319.7" x2="392.50" y2="322.8"/>
<line x1="463.83" y1="319.7" x2="463.83" y2="322.8"/>
<line x1="71.5" y1="316.70" x2="65.8" y2="316.70"/>
<line x1="71.5" y1="241.38" x2="65.8" y2="241.38"/>
<line x1="71.5" y1="166.05" x2="65.8" y2="166.05"/>
<line x1="71.5" y1="90.72" x2="65.8" y2="90.72"/>
<line x1="71.5" y1="15.40" x2="65.8" y2="15.40"/>
<line x1="71.5" y1="279.04" x2="68.3" y2="279.04"/>
<line x1="71.5" y1="203.71" x2="68.3" y2="203.71"/>
<line x1="71.5" y1="128.39" x2="68.3" y2="128.39"/>
<line x1="71.5" y1="53.06" x2="68.3" y2="53.06"/>
</g>
<g font-size="18.9">
<text x="70.10" y="343.5" text-anchor="middle">4000</text>
<text x="141.43" y="343.5" text-anchor="middle">3750</text>
<text x="212.77" y="343.5" text-anchor="middle">3500</text>
<text x="284.10" y="343.5" text-anchor="middle">3250</text>
<text x="355.43" y="343.5" text-anchor="middle">3000</text>
<text x="426.77" y="343.5" text-anchor="middle">2750</text>
<text x="498.10" y="343.5" text-anchor="middle">2500</text>
<text x="62.3" y="322.30" text-anchor="end">0.00</text>
<text x="62.3" y="246.97" text-anchor="end">0.25</text>
<text x="62.3" y="171.65" text-anchor="end">0.50</text>
<text x="62.3" y="96.32" text-anchor="end">0.75</text>
<text x="62.3" y="21.00" text-anchor="end">1.00</text>
</g>
<g font-size="15.7">
<line x1="392" y1="33.80" x2="423" y2="33.80" stroke="#2b2bb4" stroke-width="1.8" stroke-dasharray="1.4 1.32"/>
<text x="431.2" y="41.60">30</text><text x="455.5" y="33.90">o</text><text x="465.2" y="41.60">C</text>
<line x1="392" y1="54.50" x2="423" y2="54.50" stroke="#2f90d0" stroke-width="1.8" stroke-dasharray="3.8 2.4"/>
<text x="431.2" y="61.32">40</text><text x="455.5" y="53.62">o</text><text x="465.2" y="61.32">C</text>
<line x1="392" y1="74.20" x2="423" y2="74.20" stroke="#3ccf3c" stroke-width="1.8"/>
<text x="431.2" y="81.04">50</text><text x="455.5" y="73.34">o</text><text x="465.2" y="81.04">C</text>
<line x1="392" y1="92.60" x2="423" y2="92.60" stroke="#e0449a" stroke-width="1.8" stroke-dasharray="8.6 3.8 1.4 4.2"/>
<text x="431.2" y="100.76">60</text><text x="455.5" y="93.06">o</text><text x="465.2" y="100.76">C</text>
<line x1="392" y1="112.20" x2="423" y2="112.20" stroke="#cc2436" stroke-width="1.8" stroke-dasharray="7.7 6.3"/>
<text x="431.2" y="120.48">70</text><text x="455.5" y="112.78">o</text><text x="465.2" y="120.48">C</text>
<line x1="392" y1="132.50" x2="423" y2="132.50" stroke="#e0181e" stroke-width="1.8"/>
<text x="431.2" y="140.20">80</text><text x="455.5" y="132.50">o</text><text x="465.2" y="140.20">C</text>
</g>
<line x1="484.2" y1="24.2" x2="484.2" y2="138" stroke="#000" stroke-width="1.7"/>
<path d="M481.6,137 L486.8,137 L484.2,145.3 Z" fill="#000"/>
<g font-size="19">
<text x="207.3" y="36.6">A3</text>
<text x="271.8" y="104.8">A2</text>
<text x="299.7" y="265.2">A1</text>
<text x="207.4" y="251">A4</text>
<text x="143.4" y="256.7">A5</text>
</g>
<g stroke="#000" stroke-width="1.8" fill="#000">
<line x1="248.4" y1="99.8" x2="267.6" y2="84.1"/><path d="M273.8,79.0 L268.7,87.0 L264.9,82.4 Z" stroke="none"/>
<line x1="252.0" y1="231.4" x2="274.7" y2="250.6"/><path d="M280.8,255.8 L272.0,252.3 L275.9,247.7 Z" stroke="none"/>
<line x1="275.4" y1="284.7" x2="291.0" y2="301.5"/><path d="M296.4,307.4 L288.1,302.8 L292.5,298.8 Z" stroke="none"/>
<line x1="209.4" y1="289.1" x2="226.3" y2="277.8"/><path d="M233.0,273.4 L227.2,280.9 L223.8,275.9 Z" stroke="none"/>
<line x1="188.3" y1="311.6" x2="204.5" y2="300.1"/><path d="M211.0,295.5 L205.4,303.2 L201.9,298.3 Z" stroke="none"/>
</g>
<text x="14.9" y="148.4" font-size="19.3" text-anchor="middle" transform="rotate(-90 14.9 148.4)">Absorbance</text>
<g font-size="19.2">
<text x="187.6" y="370.2" letter-spacing="0.33">Wavenumber (cm</text>
<text x="361.5" y="361.5" font-size="12.5">-1</text>
<text x="375.5" y="370.2">)</text>
</g>
</svg>
</body></html>
